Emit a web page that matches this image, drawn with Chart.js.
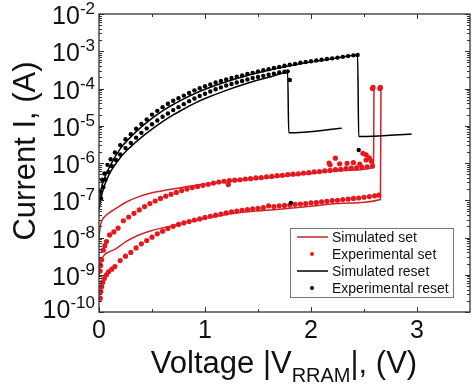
<!DOCTYPE html>
<html>
<head>
<meta charset="utf-8">
<script src="https://cdn.jsdelivr.net/npm/chart.js@4.4.0/dist/chart.umd.min.js"></script>
<style>
  html, body { margin: 0; padding: 0; background: #fff; }
  #wrap { width: 474px; height: 384px; }
</style>
</head>
<body>
<div id="wrap"><canvas id="chart" width="474" height="384"></canvas></div>
<script>
// ── data (voltage in V, current as log10 of amps) ──

// simulated set: two sweeps, each ending with the jump to compliance
const setSimUpV    = [0, 0.005, 0.02, 0.05, 0.1, 0.15, 0.25, 0.37, 0.5, 0.65, 0.8, 1.0, 1.16, 1.4, 1.7, 2.0, 2.3, 2.59, 2.594];
const setSimUpLogI = [-8.05, -7.85, -7.6, -7.45, -7.33, -7.24, -7.06, -6.91, -6.80, -6.72, -6.65, -6.57, -6.51, -6.44, -6.36, -6.28, -6.20, -6.12, -3.96];
const setSimLoV    = [0, 0.005, 0.02, 0.05, 0.1, 0.15, 0.25, 0.37, 0.5, 0.65, 0.8, 1.0, 1.16, 1.4, 1.7, 2.0, 2.3, 2.655, 2.66];
const setSimLoLogI = [-9.05, -8.85, -8.62, -8.47, -8.38, -8.32, -8.12, -7.94, -7.81, -7.71, -7.61, -7.49, -7.40, -7.31, -7.24, -7.16, -7.08, -6.98, -3.96];

// experimental set
const setExpUpV = [0.01, 0.015, 0.025, 0.04, 0.055, 0.07, 0.1, 0.14, 0.18,
  0.23, 0.28, 0.33, 0.38, 0.43, 0.48, 0.53, 0.58, 0.63, 0.68, 0.73, 0.78, 0.83, 0.88, 0.93, 0.98,
  1.03, 1.08, 1.13, 1.18, 1.23, 1.28, 1.33, 1.38, 1.43, 1.48, 1.53, 1.58, 1.63, 1.68, 1.73, 1.78,
  1.83, 1.88, 1.93, 1.98, 2.03, 2.08, 2.13, 2.18, 2.23, 2.28, 2.33, 2.38, 2.43, 2.48, 2.53, 2.58];
const setExpUpLogI = [-8.9, -8.75, -8.6, -8.34, -8.22, -8.11, -7.93, -7.85, -7.75,
  -7.55, -7.45, -7.35, -7.26, -7.17, -7.09, -7.02, -6.95, -6.89, -6.84, -6.79, -6.74, -6.70, -6.66, -6.63, -6.60,
  -6.57, -6.54, -6.51, -6.49, -6.47, -6.46, -6.45, -6.43, -6.42, -6.40, -6.39, -6.37, -6.36, -6.34, -6.33, -6.31,
  -6.30, -6.29, -6.27, -6.26, -6.24, -6.23, -6.21, -6.20, -6.18, -6.17, -6.15, -6.14, -6.13, -6.11, -6.10, -6.08];
const setExpLoV = [0.012, 0.018, 0.025, 0.035, 0.05, 0.07, 0.09, 0.12, 0.15,
  0.2, 0.25, 0.3, 0.35, 0.4, 0.45, 0.5, 0.55, 0.6, 0.65, 0.7, 0.75, 0.8, 0.85, 0.9, 0.95,
  1.0, 1.05, 1.1, 1.15, 1.2, 1.25, 1.3, 1.35, 1.4, 1.45, 1.5, 1.55, 1.6, 1.65, 1.7, 1.75,
  1.8, 1.85, 1.9, 1.95, 2.0, 2.05, 2.1, 2.15, 2.2, 2.25, 2.3, 2.35, 2.4, 2.45, 2.5, 2.55, 2.6, 2.64];
const setExpLoLogI = [-9.63, -9.45, -9.32, -9.2, -9.1, -9.0, -8.92, -8.85, -8.78,
  -8.62, -8.50, -8.40, -8.28, -8.17, -8.08, -7.99, -7.90, -7.83, -7.76, -7.70, -7.65, -7.61, -7.57, -7.53, -7.50,
  -7.46, -7.43, -7.40, -7.37, -7.34, -7.31, -7.29, -7.27, -7.25, -7.23, -7.22, -7.20, -7.15, -7.17, -7.15, -7.14,
  -7.13, -7.11, -7.10, -7.09, -7.07, -7.06, -7.04, -7.03, -7.01, -7.00, -6.98, -6.97, -6.95, -6.94, -6.92, -6.90, -6.88, -6.86];
// scattered points near the set transition
const setExpExtraV    = [1.22, 2.17, 2.18, 2.23, 2.27, 2.34, 2.40, 2.46, 2.49, 2.52, 2.52, 2.55, 2.57, 2.58, 2.585, 2.65, 2.655];
const setExpExtraLogI = [-6.58, -6.00, -6.05, -5.87, -6.02, -6.01, -5.99, -6.03, -5.74, -5.92, -5.78, -5.86, -5.95, -4.00, -3.97, -4.00, -3.97];

// simulated reset: two sweeps, drop then high-resistance tail
const resetSimUpV    = [0, 0.02, 0.05, 0.1, 0.2, 0.3, 0.4, 0.5, 0.6, 0.7, 0.8, 0.9, 1.0, 1.2, 1.4, 1.6, 1.8, 2.0, 2.2, 2.44, 2.45, 2.95];
const resetSimUpLogI = [-7.1, -6.7, -6.42, -6.1, -5.62, -5.30, -5.03, -4.80, -4.60, -4.43, -4.28, -4.14, -4.02, -3.82, -3.65, -3.51, -3.39, -3.29, -3.20, -3.11, -5.29, -5.22];
const resetSimLoV    = [0, 0.02, 0.05, 0.1, 0.2, 0.3, 0.4, 0.5, 0.6, 0.7, 0.8, 0.9, 1.0, 1.2, 1.4, 1.6, 1.78, 1.79, 2.29];
const resetSimLoLogI = [-7.25, -6.92, -6.62, -6.28, -5.86, -5.56, -5.31, -5.09, -4.89, -4.71, -4.55, -4.40, -4.27, -4.05, -3.86, -3.70, -3.57, -5.19, -5.07];

// experimental reset
const resetExpUpV = [0.01, 0.03, 0.05, 0.08, 0.11, 0.15,
  0.2, 0.25, 0.3, 0.35, 0.4, 0.45, 0.5, 0.55, 0.6, 0.65, 0.7, 0.75, 0.8, 0.85, 0.9, 0.95,
  1.0, 1.05, 1.1, 1.15, 1.2, 1.25, 1.3, 1.35, 1.4, 1.45, 1.5, 1.55, 1.6, 1.65, 1.7, 1.75,
  1.8, 1.85, 1.9, 1.95, 2.0, 2.05, 2.1, 2.15, 2.2, 2.25, 2.3, 2.35, 2.4, 2.44];
const resetExpUpLogI = [-6.75, -6.45, -6.28, -6.05, -5.90, -5.72,
  -5.52, -5.36, -5.23, -5.08, -4.95, -4.83, -4.70, -4.60, -4.50, -4.41, -4.33, -4.26, -4.19, -4.12, -4.05, -3.99,
  -3.94, -3.89, -3.84, -3.80, -3.76, -3.72, -3.68, -3.65, -3.61, -3.58, -3.54, -3.51, -3.48, -3.45, -3.42, -3.39,
  -3.36, -3.34, -3.31, -3.29, -3.27, -3.25, -3.23, -3.21, -3.19, -3.17, -3.15, -3.13, -3.11, -3.10];
const resetExpLoV = [0.02, 0.04, 0.06, 0.09, 0.12, 0.16,
  0.2, 0.25, 0.3, 0.35, 0.4, 0.45, 0.5, 0.55, 0.6, 0.65, 0.7, 0.75, 0.8, 0.85, 0.9, 0.95,
  1.0, 1.05, 1.1, 1.15, 1.2, 1.25, 1.3, 1.35, 1.4, 1.45, 1.5, 1.55, 1.6, 1.65, 1.7, 1.75, 1.78];
const resetExpLoLogI = [-6.95, -6.65, -6.45, -6.24, -6.08, -5.92,
  -5.77, -5.60, -5.46, -5.32, -5.19, -5.07, -4.96, -4.86, -4.76, -4.67, -4.58, -4.50, -4.42, -4.34, -4.27, -4.20,
  -4.14, -4.08, -4.02, -3.97, -3.92, -3.88, -3.84, -3.80, -3.76, -3.72, -3.69, -3.66, -3.63, -3.60, -3.57, -3.55, -3.54];
const resetExpExtraV    = [1.80, 1.81, 2.45];
const resetExpExtraLogI = [-3.77, -7.07, -5.65];

// axes
const xTickValues = [0, 1, 2, 3];
const xMinorValues = [0.5, 1.5, 2.5];
const yDecades = [-10, -9, -8, -7, -6, -5, -4, -3, -2];

const legendItems = [
  { label: 'Simulated set', kind: 'line', color: '#cc2428' },
  { label: 'Experimental set', kind: 'dot', color: '#e8171d' },
  { label: 'Simulated reset', kind: 'line', color: '#000' },
  { label: 'Experimental reset', kind: 'dot', color: '#000' },
];

const RED_LINE = '#cc2428';
const RED_DOT = '#e8171d';
const FONT = '"Liberation Sans", Arial, sans-serif';

function pts(xs, logs) {
  return xs.map((v, i) => ({ x: v, y: Math.pow(10, logs[i]) }));
}

// frame, inward ticks, tick labels, axis titles, legend
const decorations = {
  id: 'decorations',
  afterDraw(chart) {
    const { ctx, chartArea: a, scales: { x, y } } = chart;
    ctx.save();

    // ticks (inward, all four sides)
    ctx.strokeStyle = '#333';
    ctx.lineWidth = 1;
    ctx.beginPath();
    const xTick = (v, len) => {
      const px = Math.round(x.getPixelForValue(v)) + 0.5;
      ctx.moveTo(px, a.bottom); ctx.lineTo(px, a.bottom - len);
      ctx.moveTo(px, a.top); ctx.lineTo(px, a.top + len);
    };
    const yTick = (v, len) => {
      const py = Math.round(y.getPixelForValue(v)) + 0.5;
      ctx.moveTo(a.left, py); ctx.lineTo(a.left + len, py);
      ctx.moveTo(a.right, py); ctx.lineTo(a.right - len, py);
    };
    xTickValues.forEach(v => xTick(v, 5));
    xMinorValues.forEach(v => xTick(v, 3));
    yDecades.forEach(d => {
      yTick(Math.pow(10, d), 5);
      if (d < -2) for (let k = 2; k <= 9; k++) yTick(k * Math.pow(10, d), 3);
    });
    ctx.stroke();

    // frame
    ctx.lineWidth = 1.3;
    ctx.strokeStyle = '#333';
    ctx.strokeRect(a.left, a.top, a.right - a.left, a.bottom - a.top);

    ctx.fillStyle = '#111';
    // x tick labels
    ctx.font = '25px ' + FONT;
    ctx.textAlign = 'center';
    ctx.textBaseline = 'alphabetic';
    xTickValues.forEach(v => ctx.fillText(String(v), x.getPixelForValue(v), a.bottom + 26));

    // y tick labels 10^n
    yDecades.forEach(d => {
      const py = y.getPixelForValue(Math.pow(10, d));
      const base = d === -10 ? py + 6 : py + 10;
      const right = a.left - 4;
      ctx.textAlign = 'right';
      ctx.font = '17px ' + FONT;
      const sup = String(d);
      const sw = ctx.measureText(sup).width;
      ctx.fillText(sup, right, base - 10);
      ctx.font = '25px ' + FONT;
      ctx.fillText('10', right - sw, base);
    });

    // y title
    ctx.save();
    ctx.translate(35, 151);
    ctx.rotate(-Math.PI / 2);
    ctx.font = '31px ' + FONT;
    ctx.textAlign = 'center';
    ctx.fillText('Current I, (A)', 0, 0);
    ctx.restore();

    // x title with subscript
    const p1 = 'Voltage |V', sub = 'RRAM', p2 = '|, (V)';
    ctx.textAlign = 'left';
    ctx.font = '31px ' + FONT;
    const w1 = ctx.measureText(p1).width, w3 = ctx.measureText(p2).width;
    ctx.font = '20px ' + FONT;
    const w2 = ctx.measureText(sub).width;
    let tx = 284 - (w1 + w2 + w3) / 2;
    ctx.font = '31px ' + FONT;
    ctx.fillText(p1, tx, 373); tx += w1;
    ctx.font = '20px ' + FONT;
    ctx.fillText(sub, tx, 382); tx += w2;
    ctx.font = '31px ' + FONT;
    ctx.fillText(p2, tx, 373);

    // legend box
    const lx = 290, ly = 228, lw = 163, lh = 69;
    ctx.fillStyle = '#fff';
    ctx.fillRect(lx, ly, lw, lh);
    ctx.strokeStyle = '#777';
    ctx.lineWidth = 1;
    ctx.strokeRect(lx + 0.5, ly + 0.5, lw, lh);
    ctx.font = '14px ' + FONT;
    ctx.textBaseline = 'middle';
    legendItems.forEach((it, i) => {
      const cy = ly + 9 + i * 17;
      if (it.kind === 'line') {
        ctx.strokeStyle = it.color;
        ctx.lineWidth = 1.5;
        ctx.beginPath();
        ctx.moveTo(lx + 7, cy); ctx.lineTo(lx + 38, cy);
        ctx.stroke();
      } else {
        ctx.fillStyle = it.color;
        ctx.beginPath();
        ctx.arc(lx + 22, cy, 2, 0, Math.PI * 2);
        ctx.fill();
      }
      ctx.fillStyle = '#111';
      ctx.fillText(it.label, lx + 42, cy + 1);
    });

    ctx.restore();
  }
};

const dotStyle = (c, r) => ({ showLine: false, pointRadius: r, pointBackgroundColor: c, pointBorderWidth: 0, borderColor: c });
const lineStyle = c => ({ showLine: true, pointRadius: 0, borderColor: c, borderWidth: 1.5, cubicInterpolationMode: 'monotone' });

new Chart(document.getElementById('chart'), {
  type: 'scatter',
  data: {
    datasets: [
      { label: 'Experimental reset', data: pts(resetExpUpV.concat(resetExpLoV, resetExpExtraV), resetExpUpLogI.concat(resetExpLoLogI, resetExpExtraLogI)), ...dotStyle('#000', 2.2) },
      { label: 'Experimental set', data: pts(setExpUpV.concat(setExpLoV, setExpExtraV), setExpUpLogI.concat(setExpLoLogI, setExpExtraLogI)), ...dotStyle(RED_DOT, 2.6) },
      { label: 'Simulated reset', data: pts(resetSimUpV, resetSimUpLogI), ...lineStyle('#000') },
      { label: 'Simulated reset 2', data: pts(resetSimLoV, resetSimLoLogI), ...lineStyle('#000') },
      { label: 'Simulated set', data: pts(setSimUpV, setSimUpLogI), ...lineStyle(RED_LINE) },
      { label: 'Simulated set 2', data: pts(setSimLoV, setSimLoLogI), ...lineStyle(RED_LINE) },
    ]
  },
  options: {
    responsive: false,
    animation: false,
    devicePixelRatio: 1,
    layout: { padding: { left: 0, top: 14, right: 4, bottom: 0 } },
    plugins: { legend: { display: false }, tooltip: { enabled: false } },
    scales: {
      x: {
        type: 'linear', min: 0, max: 3.5,
        grid: { display: false }, border: { display: false },
        ticks: { display: false },
        afterFit: s => { s.height = 72; }
      },
      y: {
        type: 'logarithmic', min: 1e-10, max: 1e-2,
        grid: { display: false }, border: { display: false },
        ticks: { display: false },
        afterFit: s => { s.width = 99; }
      }
    }
  },
  plugins: [decorations]
});
</script>
</body>
</html>
